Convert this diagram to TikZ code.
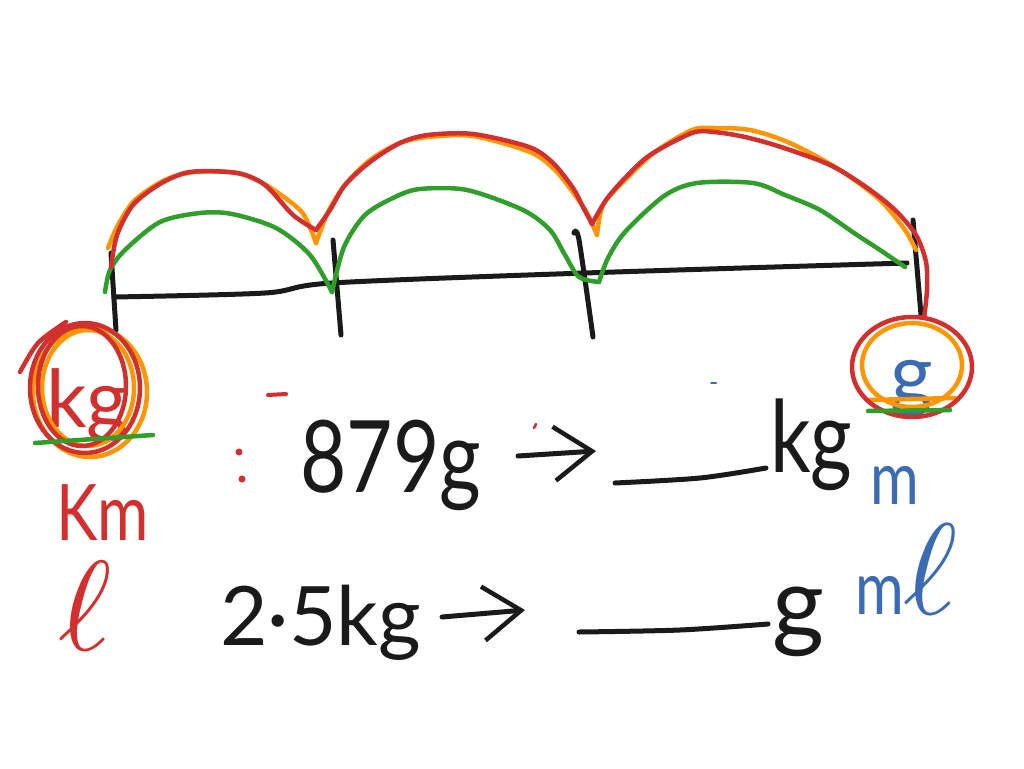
\documentclass[tikz,border=0pt]{standalone}
\usepackage{fontspec}
\setmainfont{Lato}
\newfontfamily\hand[FakeStretch=0.8]{Lato}
\newfontfamily\scr{Latin Modern Math}
\usetikzlibrary{arrows.meta}
\definecolor{InkBlack}{HTML}{1A1A1A}
\definecolor{InkRed}{HTML}{D2302E}
\definecolor{InkOrange}{HTML}{FF9500}
\definecolor{InkGreen}{HTML}{2F9E2A}
\definecolor{InkBlue}{HTML}{3A6BB3}
\newcommand{\ltr}{{\scr ℓ}}
\newcommand{\sz}[1]{\fontsize{#1}{#1}\selectfont}

\begin{document}
\begin{tikzpicture}[x=1pt, y=-1pt, line cap=round, line join=round,
  ink/.style={draw=InkBlack, line width=5pt},
  hop/.style={line width=4.5pt},
  barb/.style={ink, -{Straight Barb[length=38pt, width=54pt, line width=4.5pt]}}]
\useasboundingbox (0,0) rectangle (1024,768);

% Number line and ticks
\draw[ink] plot[smooth] coordinates {(114,297) (265,293) (332,283) (585,273) (907,263)};
\draw[ink] (111,253) -- (116,330);
\draw[ink] (333,240) -- (341,335);
\draw[ink] plot[smooth] coordinates {(574,233) (579,240) (593,337)};
\draw[ink] (913,220) -- (921,315);

% Green hops
\draw[hop, InkGreen] plot[smooth] coordinates {(105,292) (110,270) (125,250) (160,222) (200,213) (232,214) (276,228) (310,255) (332,292)};
\draw[hop, InkGreen] plot[smooth] coordinates {(332,292) (344,247) (365,215) (395,197) (420,189) (467,190) (523,210) (550,230) (565,255) (579,277) (599,282)};
\draw[hop, InkGreen] plot[smooth] coordinates {(599,282) (608,258) (625,232) (664,196) (697,183) (753,183) (785,195) (820,210) (854,233) (880,250) (905,267)};

% Orange hops
\draw[hop, InkOrange] plot[smooth] coordinates {(108,248) (118,225) (135,200) (165,180) (195,172) (237,173) (266,185) (300,210) (311,230) (316,243)};
\draw[hop, InkOrange] plot[smooth] coordinates {(316,243) (328,212) (345,185) (370,160) (400,143) (428,137) (473,136) (530,152) (555,170) (575,195) (588,215) (597,235)};
\draw[hop, InkOrange] plot[smooth] coordinates {(597,235) (603,205) (625,180) (655,152) (692,130) (714,128) (750,130) (790,143) (840,170) (880,200) (905,230) (916,250)};

% Red hops
\draw[hop, InkRed] plot[smooth] coordinates {(111,267) (117,235) (133,205) (160,184) (190,172) (237,173) (265,185) (293,215) (316,230)};
\draw[hop, InkRed] plot[smooth] coordinates {(316,230) (330,210) (345,185) (370,162) (400,143) (428,135) (473,134) (529,147) (553,163) (573,188) (582,205) (592,224)};
\draw[hop, InkRed] plot[smooth] coordinates {(592,224) (606,200) (625,178) (650,155) (692,133) (714,132) (745,137) (781,147) (830,165) (866,187) (895,210) (916,235) (926,262) (927,290) (924,318)};

% Left end: kg
\node[anchor=base west, text=InkRed, font=\sz{80}, inner sep=0pt] (kgL) at (46,427) {kg};
\draw[hop, InkOrange] (90,392) ellipse [x radius=57, y radius=65];
\draw[hop, InkOrange] (88,388) ellipse [x radius=46, y radius=58];
\draw[hop, InkRed] (85,388) ellipse [x radius=55, y radius=65];
\draw[hop, InkRed] (82,386) ellipse [x radius=44, y radius=60];
\draw[hop, InkRed] plot[smooth] coordinates {(20,372) (38,343) (66,322)};
\draw[hop, InkGreen] (35,443) -- (153,435);
\node[anchor=base west, text=InkRed, font=\hand\sz{78}, inner sep=0pt] (kmL) at (56,540) {Km};
\node[anchor=base west, text=InkRed, font=\sz{128}, inner sep=0pt] (ltL) at (58,650) {\ltr};

% Right end: g
\node[anchor=base west, text=InkBlue, font=\sz{82}, inner sep=0pt] (gR) at (890,402) {g};
\draw[hop, InkOrange] (912,365) ellipse [x radius=50, y radius=42];
\draw[hop, InkOrange] (867,400) -- (955,398);
\draw[hop, InkRed] (912,367) ellipse [x radius=60, y radius=50];
\draw[hop, InkGreen] (868,411) -- (950,410);
\node[anchor=base west, text=InkBlue, font=\hand\sz{74}, inner sep=0pt] (mR) at (870,504) {m};
\node[anchor=base west, text=InkBlue, font=\hand\sz{74}, inner sep=0pt] (mlR) at (855,614) {m\sz{130}\ltr};

% Stray marks
\draw[InkRed, line width=4pt] (268,395) -- (286,394);
\fill[InkRed] (239,452) circle (3.5pt) (242,479) circle (3.5pt);
\draw[InkRed, line width=2.5pt] (534,428) -- (536,424);
\draw[InkBlue, line width=2pt] (711,383) -- (716,383);

% Question 1
\node[anchor=base west, text=InkBlack, font=\hand\sz{100}, inner sep=0pt] (q1) at (300,492) {879g};
\coordinate (a1s) at (518,456);
\coordinate (a1e) at (596,451);
\draw[barb] (a1s) -- (a1e);
\draw[ink] plot[smooth] coordinates {(615,483) (700,478) (766,468)};
\node[anchor=base west, text=InkBlack, font=\hand\sz{100}, inner sep=0pt] (u1) at (770,472) {kg};

% Question 2
\node[anchor=base west, text=InkBlack, font=\sz{82}, inner sep=0pt] (q2) at (220,645) {2·5kg};
\coordinate (a2s) at (442,617);
\coordinate (a2e) at (525,610);
\draw[barb] (a2s) -- (a2e);
\draw[ink] plot[smooth] coordinates {(579,632) (680,630) (768,624)};
\node[anchor=base west, text=InkBlack, font=\sz{100}, inner sep=0pt] (u2) at (772,638) {g};

\end{tikzpicture}
\end{document}
